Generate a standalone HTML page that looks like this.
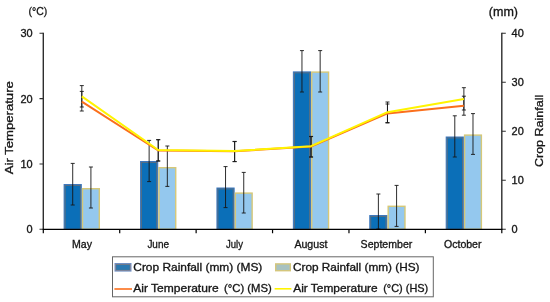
<!DOCTYPE html><html><head><meta charset="utf-8"><title>chart</title><style>html,body{margin:0;padding:0;background:#fff}svg{display:block}text{stroke:#161616;stroke-width:.32px}</style></head><body><svg width="550" height="302" viewBox="0 0 550 302" font-family="Liberation Sans, sans-serif" fill="#161616">
<rect width="550" height="302" fill="#fff"/>
<rect x="64.11" y="184.50" width="17.20" height="44.80" fill="#0b6fb8" stroke="#3f78bd" stroke-width="1"/>
<rect x="65.11" y="185.50" width="15.20" height="43.80" fill="none" stroke="rgba(190,110,60,0.5)" stroke-width="0.8"/>
<rect x="82.51" y="188.70" width="16.80" height="40.60" fill="#94c8ee" stroke="#d6c878" stroke-width="1.4"/>
<rect x="140.53" y="161.50" width="17.20" height="67.80" fill="#0b6fb8" stroke="#3f78bd" stroke-width="1"/>
<rect x="141.53" y="162.50" width="15.20" height="66.80" fill="none" stroke="rgba(190,110,60,0.5)" stroke-width="0.8"/>
<rect x="158.93" y="167.70" width="16.80" height="61.60" fill="#94c8ee" stroke="#d6c878" stroke-width="1.4"/>
<rect x="216.94" y="188.00" width="17.20" height="41.30" fill="#0b6fb8" stroke="#3f78bd" stroke-width="1"/>
<rect x="217.94" y="189.00" width="15.20" height="40.30" fill="none" stroke="rgba(190,110,60,0.5)" stroke-width="0.8"/>
<rect x="235.34" y="193.10" width="16.80" height="36.20" fill="#94c8ee" stroke="#d6c878" stroke-width="1.4"/>
<rect x="293.36" y="71.90" width="17.20" height="157.40" fill="#0b6fb8" stroke="#3f78bd" stroke-width="1"/>
<rect x="294.36" y="72.90" width="15.20" height="156.40" fill="none" stroke="rgba(190,110,60,0.5)" stroke-width="0.8"/>
<rect x="311.76" y="72.10" width="16.80" height="157.20" fill="#94c8ee" stroke="#d6c878" stroke-width="1.4"/>
<rect x="369.78" y="215.50" width="17.20" height="13.80" fill="#0b6fb8" stroke="#3f78bd" stroke-width="1"/>
<rect x="370.78" y="216.50" width="15.20" height="12.80" fill="none" stroke="rgba(190,110,60,0.5)" stroke-width="0.8"/>
<rect x="388.18" y="206.30" width="16.80" height="23.00" fill="#94c8ee" stroke="#d6c878" stroke-width="1.4"/>
<rect x="446.19" y="137.00" width="17.20" height="92.30" fill="#0b6fb8" stroke="#3f78bd" stroke-width="1"/>
<rect x="447.19" y="138.00" width="15.20" height="91.30" fill="none" stroke="rgba(190,110,60,0.5)" stroke-width="0.8"/>
<rect x="464.59" y="135.10" width="16.80" height="94.20" fill="#94c8ee" stroke="#d6c878" stroke-width="1.4"/>
<path d="M72.71 163.40V205.00M70.71 163.40H74.71M70.71 205.00H74.71" stroke="#161616" stroke-width="0.9" fill="none"/>
<path d="M90.91 167.00V208.00M88.91 167.00H92.91M88.91 208.00H92.91" stroke="#161616" stroke-width="0.9" fill="none"/>
<path d="M149.13 140.40V181.60M147.13 140.40H151.13M147.13 181.60H151.13" stroke="#161616" stroke-width="0.9" fill="none"/>
<path d="M167.33 146.00V186.40M165.33 146.00H169.33M165.33 186.40H169.33" stroke="#161616" stroke-width="0.9" fill="none"/>
<path d="M225.54 166.60V207.60M223.54 166.60H227.54M223.54 207.60H227.54" stroke="#161616" stroke-width="0.9" fill="none"/>
<path d="M243.74 172.40V213.00M241.74 172.40H245.74M241.74 213.00H245.74" stroke="#161616" stroke-width="0.9" fill="none"/>
<path d="M301.96 50.60V92.00M299.96 50.60H303.96M299.96 92.00H303.96" stroke="#161616" stroke-width="0.9" fill="none"/>
<path d="M320.16 50.60V92.00M318.16 50.60H322.16M318.16 92.00H322.16" stroke="#161616" stroke-width="0.9" fill="none"/>
<path d="M378.38 194.00V229.00M376.38 194.00H380.38M376.38 229.00H380.38" stroke="#161616" stroke-width="0.9" fill="none"/>
<path d="M396.58 185.40V226.40M394.58 185.40H398.58M394.58 226.40H398.58" stroke="#161616" stroke-width="0.9" fill="none"/>
<path d="M454.79 115.80V157.00M452.79 115.80H456.79M452.79 157.00H456.79" stroke="#161616" stroke-width="0.9" fill="none"/>
<path d="M472.99 113.60V154.40M470.99 113.60H474.99M470.99 154.40H474.99" stroke="#161616" stroke-width="0.9" fill="none"/>
<path d="M81.81 91.40V111.00M79.81 91.40H83.81M79.81 111.00H83.81" stroke="#161616" stroke-width="0.9" fill="none"/>
<path d="M158.23 139.80V161.00M156.23 139.80H160.23M156.23 161.00H160.23" stroke="#161616" stroke-width="0.9" fill="none"/>
<path d="M234.64 141.60V161.60M232.64 141.60H236.64M232.64 161.60H236.64" stroke="#161616" stroke-width="0.9" fill="none"/>
<path d="M311.06 136.60V157.00M309.06 136.60H313.06M309.06 157.00H313.06" stroke="#161616" stroke-width="0.9" fill="none"/>
<path d="M387.48 104.00V123.00M385.48 104.00H389.48M385.48 123.00H389.48" stroke="#161616" stroke-width="0.9" fill="none"/>
<path d="M463.89 96.20V115.20M461.89 96.20H465.89M461.89 115.20H465.89" stroke="#161616" stroke-width="0.9" fill="none"/>
<path d="M81.81 85.60V107.00M79.81 85.60H83.81M79.81 107.00H83.81" stroke="#161616" stroke-width="0.9" fill="none"/>
<path d="M158.23 139.60V161.00M156.23 139.60H160.23M156.23 161.00H160.23" stroke="#161616" stroke-width="0.9" fill="none"/>
<path d="M234.64 141.40V161.60M232.64 141.40H236.64M232.64 161.60H236.64" stroke="#161616" stroke-width="0.9" fill="none"/>
<path d="M311.06 136.40V157.00M309.06 136.40H313.06M309.06 157.00H313.06" stroke="#161616" stroke-width="0.9" fill="none"/>
<path d="M387.48 102.00V122.50M385.48 102.00H389.48M385.48 122.50H389.48" stroke="#161616" stroke-width="0.9" fill="none"/>
<path d="M463.89 87.70V110.00M461.89 87.70H465.89M461.89 110.00H465.89" stroke="#161616" stroke-width="0.9" fill="none"/>
<polyline fill="none" stroke="#fb6f1c" stroke-width="2" stroke-linejoin="round" points="81.81,101.60 158.23,150.50 234.64,151.30 311.06,146.50 387.48,113.40 463.89,105.70"/>
<polyline fill="none" stroke="#fff400" stroke-width="2" stroke-linejoin="round" points="81.81,96.40 158.23,150.00 234.64,151.00 311.06,146.20 387.48,112.20 463.89,98.90"/>
<path d="M43.3 32.8V229.3M501.8 32.8V229.3" stroke="#2e2e2e" stroke-width="1.4" fill="none"/>
<path d="M39.5 229.30H43.3M39.5 163.97H43.3M39.5 98.63H43.3M39.5 33.30H43.3M501.8 229.30H505.8M501.8 180.30H505.8M501.8 131.30H505.8M501.8 82.30H505.8M501.8 33.30H505.8" stroke="#2e2e2e" stroke-width="1.1" fill="none"/>
<path d="M42.699999999999996 229.3H502.40000000000003" stroke="#000" stroke-width="1.3" fill="none"/>
<path d="M43.30 229.3V233.3M119.72 229.3V233.3M196.13 229.3V233.3M272.55 229.3V233.3M348.97 229.3V233.3M425.38 229.3V233.3M501.80 229.3V233.3" stroke="#000" stroke-width="1.2" fill="none"/>
<text x="26.6" y="233.20" font-size="10.4" text-anchor="start" textLength="6.1" lengthAdjust="spacingAndGlyphs">0</text>
<text x="20.500000000000004" y="167.87" font-size="10.4" text-anchor="start" textLength="12.2" lengthAdjust="spacingAndGlyphs">10</text>
<text x="20.500000000000004" y="102.53" font-size="10.4" text-anchor="start" textLength="12.2" lengthAdjust="spacingAndGlyphs">20</text>
<text x="20.500000000000004" y="37.20" font-size="10.4" text-anchor="start" textLength="12.2" lengthAdjust="spacingAndGlyphs">30</text>
<text x="511.6" y="233.30" font-size="10.4" text-anchor="start" textLength="6.1" lengthAdjust="spacingAndGlyphs">0</text>
<text x="511.6" y="184.30" font-size="10.4" text-anchor="start" textLength="12.2" lengthAdjust="spacingAndGlyphs">10</text>
<text x="511.6" y="135.30" font-size="10.4" text-anchor="start" textLength="12.2" lengthAdjust="spacingAndGlyphs">20</text>
<text x="511.6" y="86.30" font-size="10.4" text-anchor="start" textLength="12.2" lengthAdjust="spacingAndGlyphs">30</text>
<text x="511.6" y="37.30" font-size="10.4" text-anchor="start" textLength="12.2" lengthAdjust="spacingAndGlyphs">40</text>
<text x="72" y="248" font-size="10.5" text-anchor="start" textLength="20" lengthAdjust="spacingAndGlyphs">May</text>
<text x="147.4" y="248" font-size="10.5" text-anchor="start" textLength="21.6" lengthAdjust="spacingAndGlyphs">June</text>
<text x="226" y="248" font-size="10.5" text-anchor="start" textLength="17" lengthAdjust="spacingAndGlyphs">July</text>
<text x="294.4" y="248" font-size="10.5" text-anchor="start" textLength="33.0" lengthAdjust="spacingAndGlyphs">August</text>
<text x="360.6" y="248" font-size="10.5" text-anchor="start" textLength="51.7" lengthAdjust="spacingAndGlyphs">September</text>
<text x="444" y="248" font-size="10.5" text-anchor="start" textLength="37.5" lengthAdjust="spacingAndGlyphs">October</text>
<text x="28.5" y="14.5" font-size="11.6" text-anchor="start" textLength="18.7" lengthAdjust="spacingAndGlyphs">(°C)</text>
<text x="488.8" y="15.5" font-size="11.9" text-anchor="start" textLength="29.2" lengthAdjust="spacingAndGlyphs">(mm)</text>
<text transform="translate(13.3 174.2) rotate(-90)" font-size="11.8" textLength="93" lengthAdjust="spacingAndGlyphs">Air Temperature</text>
<text transform="translate(543.2 167) rotate(-90)" font-size="11.8" textLength="72.2" lengthAdjust="spacingAndGlyphs">Crop Rainfall</text>
<rect x="112.5" y="256.8" width="320.8" height="40" fill="#fff" stroke="#666" stroke-width="1"/>
<rect x="115.2" y="263.7" width="15.6" height="7.2" fill="#2a78b0" stroke="#6f8fc4" stroke-width="1.4"/>
<rect x="115.9" y="264.4" width="14.2" height="5.8" fill="none" stroke="rgba(190,110,60,0.5)" stroke-width="0.7"/>
<rect x="275.7" y="263.9" width="14.6" height="6.8" fill="#a8c2c0" stroke="#d4c67c" stroke-width="1.4"/>
<path d="M114.4 289H132" stroke="#fb6f1c" stroke-width="1.6"/>
<path d="M274.6 288.8H291.4" stroke="#fff400" stroke-width="1.6"/>
<text x="133.3" y="270.8" font-size="10.7" text-anchor="start" textLength="129" lengthAdjust="spacingAndGlyphs">Crop Rainfall (mm) (MS)</text>
<text x="293" y="270.8" font-size="10.7" text-anchor="start" textLength="126.5" lengthAdjust="spacingAndGlyphs">Crop Rainfall (mm) (HS)</text>
<text x="133.3" y="292" font-size="10.7" text-anchor="start" textLength="85.3" lengthAdjust="spacingAndGlyphs">Air Temperature</text>
<text x="224" y="292" font-size="10.7" text-anchor="start" textLength="47.8" lengthAdjust="spacingAndGlyphs">(°C) (MS)</text>
<text x="293.2" y="292" font-size="10.7" text-anchor="start" textLength="84.5" lengthAdjust="spacingAndGlyphs">Air Temperature</text>
<text x="383.2" y="292" font-size="10.7" text-anchor="start" textLength="45.0" lengthAdjust="spacingAndGlyphs">(°C) (HS)</text>
</svg></body></html>
